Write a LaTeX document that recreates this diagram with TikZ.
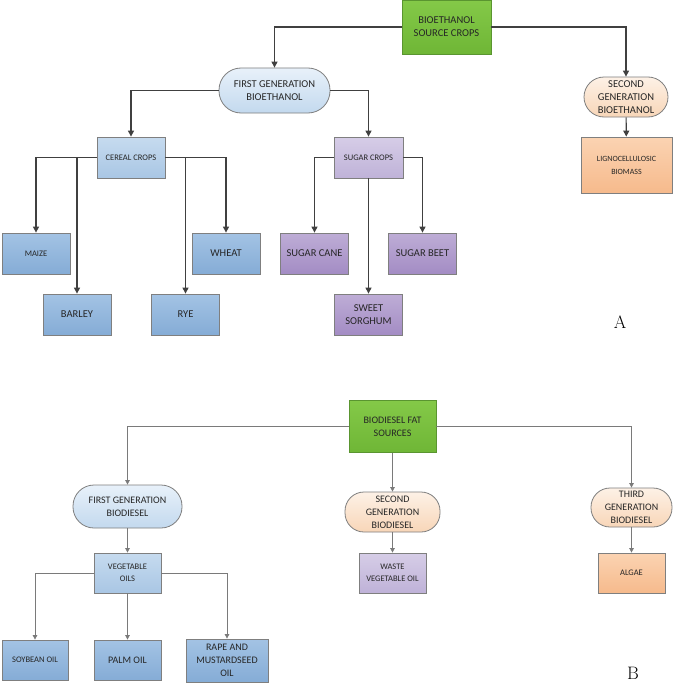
\documentclass[tikz,border=0pt]{standalone}
\usepackage{fontspec}
\newfontfamily\boxfont{Carlito}
\usetikzlibrary{arrows.meta}
\definecolor{txt}{HTML}{262626}
\definecolor{bord}{HTML}{7F7F7F}
\definecolor{grT}{HTML}{84C948}\definecolor{grB}{HTML}{6FB636}\definecolor{grD}{HTML}{5A9530}
\definecolor{lbT}{HTML}{E8F1FA}\definecolor{lbB}{HTML}{C3D9EE}
\definecolor{peT}{HTML}{FDF1E6}\definecolor{peB}{HTML}{F8D6B8}
\definecolor{orT}{HTML}{FBD3B2}\definecolor{orB}{HTML}{F6BA8C}
\definecolor{cbT}{HTML}{C6DBEF}\definecolor{cbB}{HTML}{A9C6E4}
\definecolor{dbT}{HTML}{A3C3E4}\definecolor{dbB}{HTML}{85ACD6}
\definecolor{lvT}{HTML}{D6CDE7}\definecolor{lvB}{HTML}{BFB2D8}
\definecolor{puT}{HTML}{BEADD6}\definecolor{puB}{HTML}{A38CC4}
\definecolor{lineA}{HTML}{404040}
\definecolor{lineB}{HTML}{7A7A7A}
\tikzset{
  base/.style={draw=bord, line width=0.8pt, inner sep=1pt, align=center, text=txt},
  green/.style={base, draw=grD, top color=grT, bottom color=grB},
  stadblue/.style={base, top color=lbT, bottom color=lbB},
  stadpeach/.style={base, top color=peT, bottom color=peB},
  orangebox/.style={base, top color=orT, bottom color=orB},
  cerealbox/.style={base, top color=cbT, bottom color=cbB},
  bluebox/.style={base, top color=dbT, bottom color=dbB},
  lavbox/.style={base, top color=lvT, bottom color=lvB},
  purbox/.style={base, top color=puT, bottom color=puB},
  leafA/.style={minimum width=68pt, minimum height=41pt},
  fA/.style={font=\boxfont\fontsize{10.5}{13}\selectfont},
  fAs/.style={font=\boxfont\fontsize{8.5}{12}\selectfont},
  fB/.style={font=\boxfont\fontsize{10}{13}\selectfont},
  fBs/.style={font=\boxfont\fontsize{8.5}{12.5}\selectfont},
  arrA/.style={draw=lineA, line width=1.1pt, -{Triangle[width=6pt,length=6pt]}},
  arrB/.style={draw=lineB, line width=0.8pt, -{Triangle[width=4.5pt,length=4.5pt]}},
  lettr/.style={font=\fontsize{18}{18}\selectfont, text=black}
}
\begin{document}
\begin{tikzpicture}[x=1pt,y=1pt]
\useasboundingbox[fill=white] (0,0) rectangle (676,-685);
% ---------- Part A ----------
\node[green, fA, minimum width=89pt, minimum height=54pt] (src) at (446.5,-27) {BIOETHANOL\\SOURCE CROPS};
\node[stadblue, fA, rounded corners=22pt, minimum width=111pt, minimum height=45pt] (fg) at (274.5,-90.5) {FIRST GENERATION\\BIOETHANOL};
\node[stadpeach, fA, rounded corners=20pt, minimum width=84pt, minimum height=40pt] (sg) at (626,-97) {SECOND\\GENERATION\\BIOETHANOL};
\node[orangebox, font=\boxfont\fontsize{8}{13}\selectfont, minimum width=91pt, minimum height=56pt] (lig) at (626.5,-165) {LIGNOCELLULOSIC\\BIOMASS};
\node[cerealbox, fAs, minimum width=68pt, minimum height=41pt] (cereal) at (131,-157.5) {CEREAL CROPS};
\node[lavbox, fAs, minimum width=69pt, minimum height=41pt] (sugar) at (368.5,-157.5) {SUGAR CROPS};
\node[bluebox, leafA, fAs] (maize) at (36,-253.5) {MAIZE};
\node[bluebox, leafA, fA] (barley) at (77,-314.5) {BARLEY};
\node[bluebox, leafA, fA] (rye) at (185.5,-314.5) {RYE};
\node[bluebox, leafA, fA] (wheat) at (226,-253.5) {WHEAT};
\node[purbox, leafA, fA] (cane) at (314.5,-253.5) {SUGAR CANE};
\node[purbox, leafA, fA] (beet) at (422.5,-253.5) {SUGAR BEET};
\node[purbox, leafA, fA] (sorghum) at (368.5,-314.5) {SWEET\\SORGHUM};
\draw[arrA] (src.west) -| (fg.north);
\draw[arrA] (src.east) -| (sg.north);
\draw[arrA] (sg) -- (lig);
\draw[arrA] (fg.west) -| (cereal.north);
\draw[arrA] (fg.east) -| (sugar.north);
\draw[arrA] (cereal.west) -| (maize.north);
\draw[arrA] (cereal.west -| barley.north) -- (barley.north);
\draw[arrA] (cereal.east) -| (wheat.north);
\draw[arrA] (cereal.east -| rye.north) -- (rye.north);
\draw[arrA] (sugar.west) -| (cane.north);
\draw[arrA] (sugar.east) -| (beet.north);
\draw[arrA] (sugar) -- (sorghum);
\node[lettr] (la) at (620,-322) {A};
% ---------- Part B ----------
\node[green, fB, minimum width=87pt, minimum height=52pt] (bsrc) at (392.5,-426.5) {BIODIESEL FAT\\SOURCES};
\node[stadblue, fB, rounded corners=21pt, minimum width=109pt, minimum height=43pt] (fgb) at (127.5,-506.5) {FIRST GENERATION\\BIODIESEL};
\node[stadpeach, fB, rounded corners=19pt, minimum width=95pt, minimum height=40pt] (sgb) at (392.5,-512) {SECOND\\GENERATION\\BIODIESEL};
\node[stadpeach, fB, rounded corners=19pt, minimum width=81pt, minimum height=39pt] (tgb) at (631.5,-507.5) {THIRD\\GENERATION\\BIODIESEL};
\node[cerealbox, fBs, minimum width=67pt, minimum height=40pt] (veg) at (127.5,-573) {VEGETABLE\\OILS};
\node[lavbox, fBs, minimum width=67pt, minimum height=40pt] (waste) at (392.5,-573) {WASTE\\VEGETABLE OIL};
\node[orangebox, fBs, minimum width=67pt, minimum height=40pt] (algae) at (631.5,-573) {ALGAE};
\node[bluebox, fBs, minimum width=66pt, minimum height=40pt] (soy) at (35,-660) {SOYBEAN OIL};
\node[bluebox, fB, minimum width=67pt, minimum height=40pt] (palm) at (127.5,-660) {PALM OIL};
\node[bluebox, fB, minimum width=82pt, minimum height=43pt] (rape) at (227,-660.5) {RAPE AND\\MUSTARDSEED\\OIL};
\draw[arrB] (bsrc.west) -| (fgb.north);
\draw[arrB] (bsrc.east) -| (tgb.north);
\draw[arrB] (bsrc) -- (sgb);
\draw[arrB] (fgb) -- (veg);
\draw[arrB] (sgb) -- (waste);
\draw[arrB] (tgb) -- (algae);
\draw[arrB] (veg.west) -| (soy.north);
\draw[arrB] (veg) -- (palm);
\draw[arrB] (veg.east) -| (rape.north);
\node[lettr] (lb) at (633,-673) {B};
\end{tikzpicture}
\end{document}
